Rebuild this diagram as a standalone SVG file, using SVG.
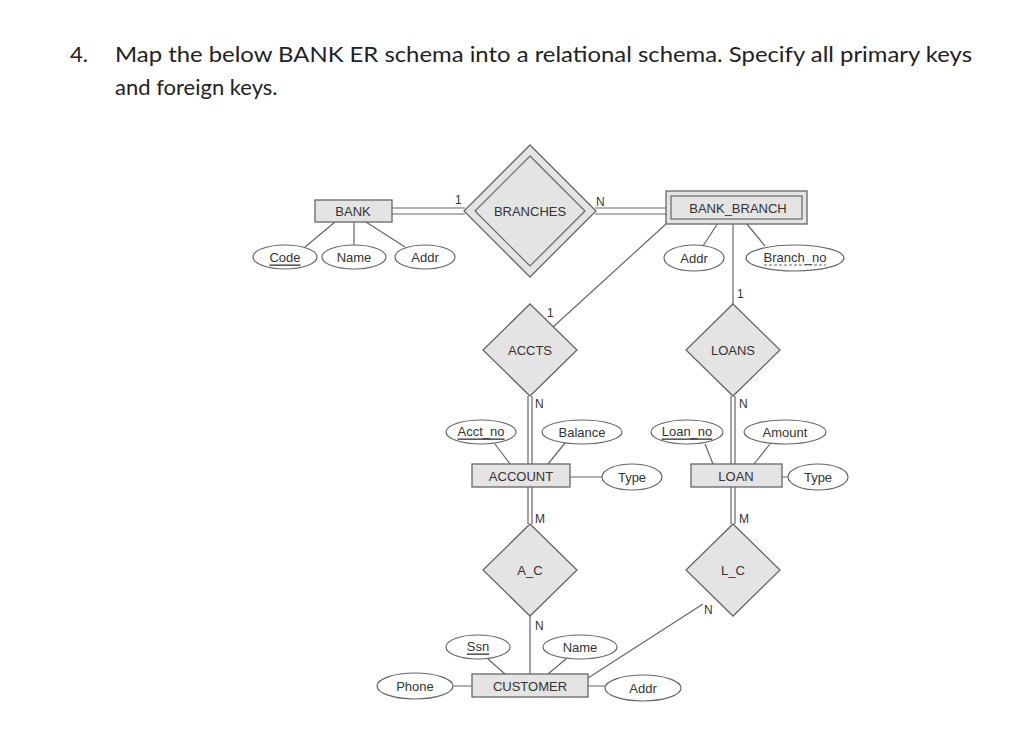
<svg xmlns="http://www.w3.org/2000/svg" width="1029" height="742" viewBox="0 0 1029 742">
<style>
.t{font-family:Lato,"Open Sans",sans-serif;font-size:22px;fill:#222}
.l{font-family:"Liberation Sans",Arial,sans-serif;font-size:13px;fill:#333;text-anchor:middle;dominant-baseline:central}
.c{font-family:"Liberation Sans",Arial,sans-serif;font-size:12px;fill:#333}
.s{fill:#e4e4e4;stroke:#666;stroke-width:1.3}
.e{fill:#fff;stroke:#666;stroke-width:1.2}
.k{fill:none;stroke:#666;stroke-width:1.2}
</style>
<rect width="1029" height="742" fill="#fff"/>
<text class="t" x="70" y="62">4.</text>
<text class="t" x="115" y="62" textLength="857" lengthAdjust="spacingAndGlyphs">Map the below BANK ER schema into a relational schema. Specify all primary keys</text>
<text class="t" x="115" y="95">and foreign keys.</text>
<g id="connectors" class="k">
<path d="M392 208H465M392 214H465"/>
<path d="M595 208H666M595 214H666"/>
<path d="M335 222L305 247M354 222V245M366 222L405 247"/>
<path d="M718 223L703 246M746 223L765 246"/>
<path d="M666 224L553 327"/>
<path d="M733 223V304"/>
<path d="M528 396V464M532 396V464"/>
<path d="M495 444L510 464M565 443L548 464M570 477H602"/>
<path d="M528 487V524M532 487V524"/>
<path d="M530 616V674"/>
<path d="M488 659L505 674M566 659L548 674M453 686H472M588 686H605"/>
<path d="M588 678L703 604"/>
<path d="M731 396V464M735 396V464"/>
<path d="M705 444L713 464M770 444L754 464M782 477H788"/>
<path d="M731 487V524M735 487V524"/>
</g>
<g class="c">
<text x="455" y="204">1</text><text x="596" y="206">N</text>
<text x="547" y="317">1</text><text x="737" y="298">1</text>
<text x="535" y="408">N</text><text x="739" y="408">N</text>
<text x="535" y="523">M</text><text x="739" y="523">M</text>
<text x="535" y="630">N</text><text x="704" y="614">N</text>
</g>
<g id="bank"><rect class="s" x="315" y="200" width="77" height="22"/><text class="l" x="353" y="211">BANK</text></g>
<g id="branches"><path class="s" d="M530 145L596 211L530 277L464 211Z"/><path class="k" d="M530 156L585 211L530 266L475 211Z"/><text class="l" x="530" y="211">BRANCHES</text></g>
<g id="bank_branch"><rect class="s" x="666" y="191" width="141" height="33"/><rect class="k" x="671" y="196" width="131" height="23"/><text class="l" x="738" y="208">BANK_BRANCH</text></g>
<g id="code"><ellipse class="e" cx="285" cy="257" rx="32" ry="12"/><text class="l" x="285" y="257" text-decoration="underline">Code</text></g>
<g id="name"><ellipse class="e" cx="354" cy="257" rx="32" ry="12"/><text class="l" x="354" y="257">Name</text></g>
<g id="addr"><ellipse class="e" cx="425" cy="257" rx="30" ry="12"/><text class="l" x="425" y="257">Addr</text></g>
<g id="bb_addr"><ellipse class="e" cx="694" cy="258" rx="30" ry="13"/><text class="l" x="694" y="258">Addr</text></g>
<g id="branch_no"><ellipse class="e" cx="795" cy="258" rx="49" ry="13"/><text class="l" x="795" y="257">Branch_no</text><path d="M764 265H826" stroke="#666" stroke-dasharray="3,2"/></g>
<g id="accts"><path class="s" d="M530 304L577 350L530 396L483 350Z"/><text class="l" x="530" y="350">ACCTS</text></g>
<g id="loans"><path class="s" d="M733 304L780 350L733 396L686 350Z"/><text class="l" x="733" y="350">LOANS</text></g>
<g id="acct_no"><ellipse class="e" cx="481" cy="432" rx="35" ry="12"/><text class="l" x="481" y="431" text-decoration="underline">Acct_no</text></g>
<g id="balance"><ellipse class="e" cx="582" cy="432" rx="40" ry="12"/><text class="l" x="582" y="432">Balance</text></g>
<g id="loan_no"><ellipse class="e" cx="687" cy="432" rx="36" ry="12"/><text class="l" x="687" y="431" text-decoration="underline">Loan_no</text></g>
<g id="amount"><ellipse class="e" cx="785" cy="432" rx="41" ry="12"/><text class="l" x="785" y="432">Amount</text></g>
<g id="account"><rect class="s" x="472" y="464" width="98" height="23"/><text class="l" x="521" y="476">ACCOUNT</text></g>
<g id="acc_type"><ellipse class="e" cx="632" cy="477" rx="30" ry="13"/><text class="l" x="632" y="477">Type</text></g>
<g id="loan"><rect class="s" x="691" y="464" width="91" height="23"/><text class="l" x="736" y="476">LOAN</text></g>
<g id="loan_type"><ellipse class="e" cx="818" cy="477" rx="30" ry="13"/><text class="l" x="818" y="477">Type</text></g>
<g id="a_c"><path class="s" d="M530 524L577 570L530 616L483 570Z"/><text class="l" x="530" y="570">A_C</text></g>
<g id="l_c"><path class="s" d="M733 524L780 570L733 616L686 570Z"/><text class="l" x="733" y="570">L_C</text></g>
<g id="ssn"><ellipse class="e" cx="478" cy="647" rx="32" ry="12"/><text class="l" x="478" y="646" text-decoration="underline">Ssn</text></g>
<g id="c_name"><ellipse class="e" cx="580" cy="647" rx="37" ry="12"/><text class="l" x="580" y="647">Name</text></g>
<g id="customer"><rect class="s" x="472" y="674" width="116" height="23"/><text class="l" x="530" y="686">CUSTOMER</text></g>
<g id="phone"><ellipse class="e" cx="415" cy="686" rx="38" ry="13"/><text class="l" x="415" y="686">Phone</text></g>
<g id="c_addr"><ellipse class="e" cx="643" cy="688" rx="38" ry="13"/><text class="l" x="643" y="688">Addr</text></g>
</svg>
